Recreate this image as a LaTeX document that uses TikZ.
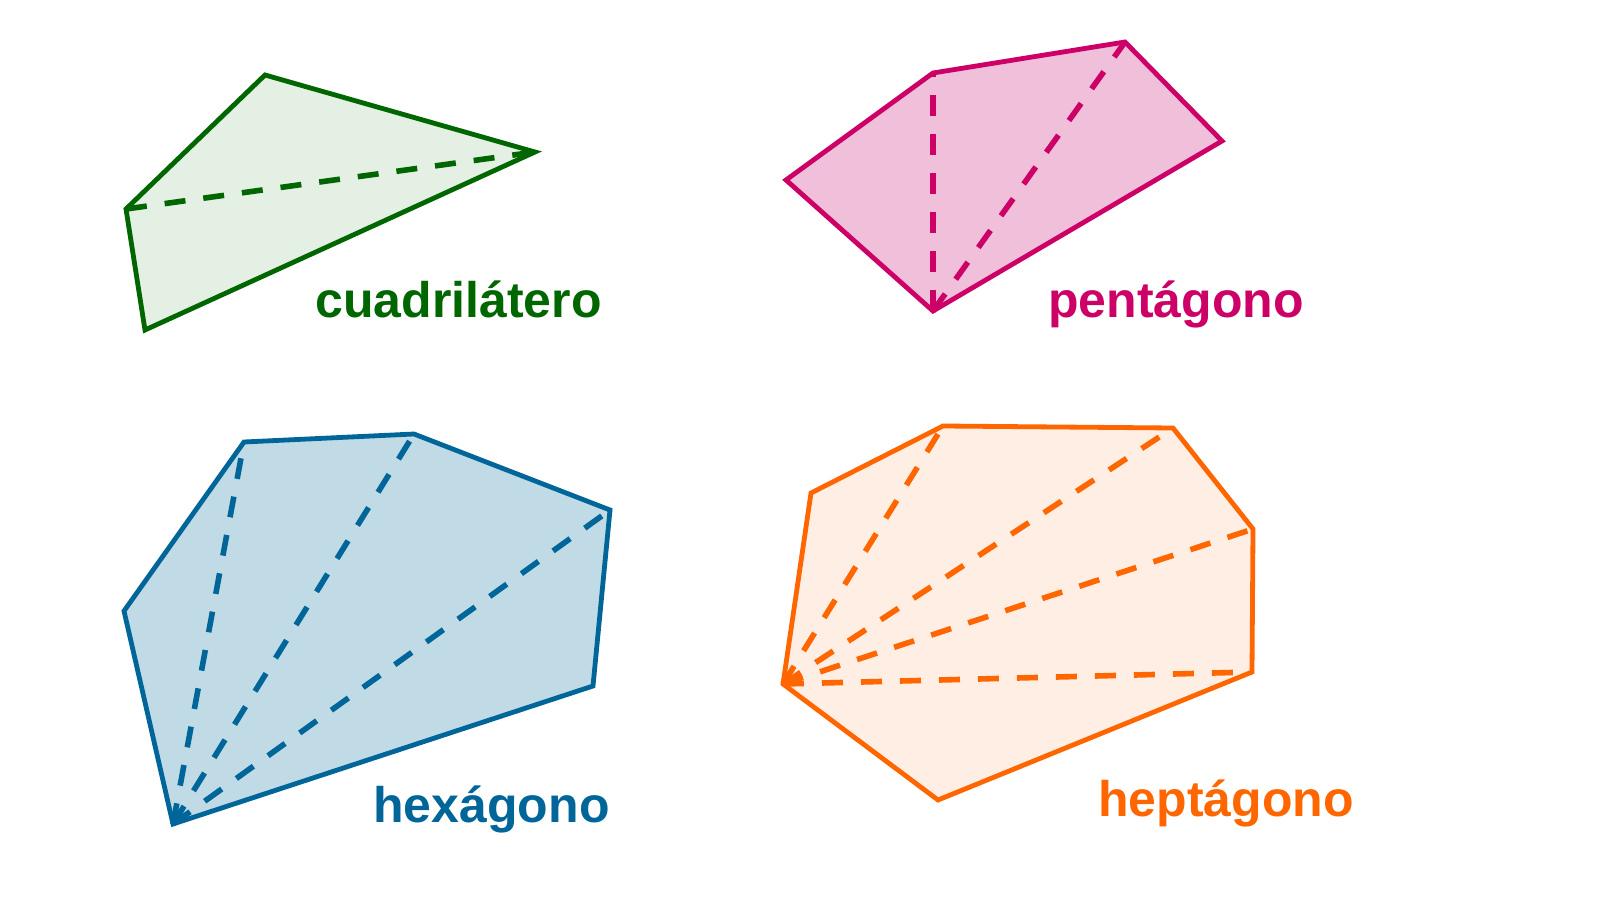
\documentclass[tikz,border=0pt]{standalone}
\usepackage{fontspec}
\setmainfont{Liberation Sans}
\usepackage{tikz}
\usetikzlibrary{calc}

\definecolor{cuadcol}{HTML}{006600}
\definecolor{cuadfill}{HTML}{E5F0E5}
\definecolor{pentcol}{HTML}{CC0066}
\definecolor{pentfill}{HTML}{F0C0DA}
\definecolor{hexcol}{HTML}{006699}
\definecolor{hexfill}{HTML}{C0DBE6}
\definecolor{heptcol}{HTML}{FF6600}
\definecolor{heptfill}{HTML}{FFEEE4}

\tikzset{
  polyside/.style={line width=2.4pt, line join=miter},
  diag/.style={line width=2.8pt, dash pattern=on 10.5pt off 9pt},
  polyname/.style={anchor=base west, inner sep=0pt, font=\fontsize{25}{30}\selectfont\bfseries},
}

\begin{document}
\begin{tikzpicture}[x=0.5pt, y=-0.5pt]
  \useasboundingbox (0,0) rectangle (1600,903);

  % cuadrilatero
  \coordinate (q1) at (126,209);
  \coordinate (q2) at (265,75);
  \coordinate (q3) at (535,152);
  \coordinate (q4) at (145,330);
  \draw [polyside, cuadcol, fill=cuadfill] (q1) -- (q2) -- (q3) -- (q4) -- cycle;
  \draw [diag, cuadcol] (q1) -- (q3);
  \node [polyname, text=cuadcol] (lq) at (315,318) {cuadrilátero};

  % pentagono
  \coordinate (p1) at (786,180);
  \coordinate (p2) at (933,73);
  \coordinate (p3) at (1125,42);
  \coordinate (p4) at (1222,141);
  \coordinate (p5) at (933,311);
  \draw [polyside, pentcol, fill=pentfill] (p1) -- (p2) -- (p3) -- (p4) -- (p5) -- cycle;
  \foreach \v in {p2,p3}
    \draw [diag, pentcol] (p5) -- (\v);
  \node [polyname, text=pentcol] (lp) at (1048,318) {pentágono};

  % hexagono
  \coordinate (h1) at (124,611);
  \coordinate (h2) at (244,442);
  \coordinate (h3) at (414,434);
  \coordinate (h4) at (610,510);
  \coordinate (h5) at (593,686);
  \coordinate (h6) at (173,824);
  \draw [polyside, hexcol, fill=hexfill] (h1) -- (h2) -- (h3) -- (h4) -- (h5) -- (h6) -- cycle;
  \foreach \v in {h2,h3,h4}
    \draw [diag, hexcol] (h6) -- (\v);
  \node [polyname, text=hexcol] (lh) at (373,822) {hexágono};

  % heptagono
  \coordinate (e1) at (783,684);
  \coordinate (e2) at (811,493);
  \coordinate (e3) at (943,426);
  \coordinate (e4) at (1173,428);
  \coordinate (e5) at (1253,529);
  \coordinate (e6) at (1252,672);
  \coordinate (e7) at (938,800);
  \draw [polyside, heptcol, fill=heptfill] (e1) -- (e2) -- (e3) -- (e4) -- (e5) -- (e6) -- (e7) -- cycle;
  \foreach \v in {e3,e4,e5,e6}
    \draw [diag, heptcol] (e1) -- (\v);
  \node [polyname, text=heptcol] (le) at (1098,816) {heptágono};
\end{tikzpicture}
\end{document}
